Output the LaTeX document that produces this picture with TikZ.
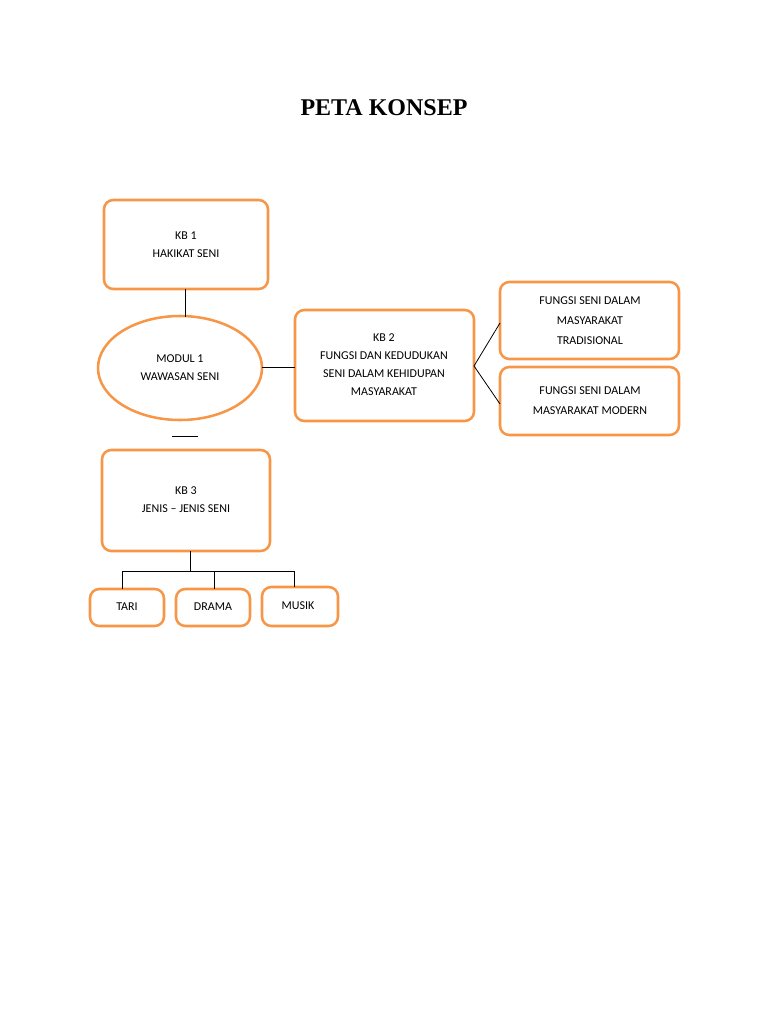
\documentclass[tikz,border=0pt]{standalone}
\usepackage{fontspec}
\setmainfont{Carlito}
\newfontfamily\titlefont{Liberation Serif}
\usetikzlibrary{shapes.geometric}
\definecolor{org}{HTML}{F79646}
\begin{document}
\begin{tikzpicture}[x=0.75pt,y=-0.75pt,
  box/.style={draw=org,line width=1.9pt,rounded corners=7pt},
  txt/.style={font=\fontsize{9}{13.5}\selectfont,align=center},
  ln/.style={line width=0.6pt}]
\useasboundingbox (0,0) rectangle (768,1024);
\node[font=\titlefont\bfseries\fontsize{18}{20}\selectfont] (title) at (384,108) {PETA KONSEP};
% boxes
\draw[box] (104,200) rectangle (268,289); \coordinate (kb1b) at (185,289);
\node[txt] (kb1) at (186,245) {KB 1\\HAKIKAT SENI};
\node[draw=org,line width=1.9pt,ellipse,minimum width=164*0.75pt,minimum height=104*0.75pt,txt] (mod) at (180,368) {MODUL 1\\WAWASAN SENI};
\draw[box] (295,310) rectangle (474,421);
\node[txt] (kb2) at (384,365) {KB 2\\FUNGSI DAN KEDUDUKAN\\SENI DALAM KEHIDUPAN\\MASYARAKAT};
\draw[box] (500,282) rectangle (679,359);
\node[txt,font=\fontsize{9}{15}\selectfont] (r1) at (590,321) {FUNGSI SENI DALAM\\MASYARAKAT\\TRADISIONAL};
\draw[box] (500,367) rectangle (679,435);
\node[txt,font=\fontsize{9}{15}\selectfont] (r2) at (590,401) {FUNGSI SENI DALAM\\MASYARAKAT MODERN};
\draw[box] (102,450) rectangle (270,551);
\node[txt] (kb3) at (186,500) {KB 3\\JENIS -- JENIS SENI};
\draw[box] (90,589) rectangle (164,626);
\node[txt] (tari) at (127,607) {TARI};
\draw[box] (176,589) rectangle (250,626);
\node[txt] (drama) at (213,607) {DRAMA};
\draw[box] (262,587) rectangle (338,626);
\node[txt] (musik) at (298,606) {MUSIK};
% connectors
\coordinate (e1) at (185,317);
\draw[ln] (kb1b) -- (e1);
\coordinate (mr) at (262,367); \coordinate (k2l) at (295,367);
\draw[ln] (mr) -- (k2l);
\coordinate (k2r) at (474,366); \coordinate (r1l) at (500,323); \coordinate (r2l) at (500,404);
\draw[ln] (r1l) -- (k2r) -- (r2l);
\coordinate (d1) at (172,436); \coordinate (d2) at (198,436);
\draw[ln] (d1) -- (d2);
\coordinate (t0) at (190,551); \coordinate (t1) at (190,571);
\coordinate (ta) at (122,571); \coordinate (tb) at (214,571); \coordinate (tc) at (294,571);
\coordinate (ta2) at (122,589); \coordinate (tb2) at (214,589); \coordinate (tc2) at (294,587);
\draw[ln] (t0) -- (t1); \draw[ln] (ta) -- (tc);
\draw[ln] (ta) -- (ta2); \draw[ln] (tb) -- (tb2); \draw[ln] (tc) -- (tc2);
\end{tikzpicture}
\end{document}
